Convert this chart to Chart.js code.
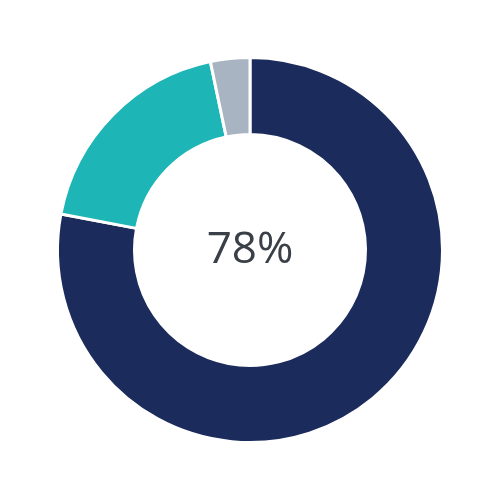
<!DOCTYPE html>
<html>
<head>
<meta charset="UTF-8">
<title>Doughnut</title>
<style>
  body { margin: 0; background: #fff; }
</style>
</head>
<body>
<canvas id="donut" width="500" height="500"></canvas>
<script src="https://cdn.jsdelivr.net/npm/chart.js"></script>
<script>
const labels = ['A', 'B', 'C'];
const values = [78, 18.7, 3.3];
const colors = ['#1b2b5b', '#1db5b5', '#a9b4c2'];
const centerText = '78%';

const centerLabel = {
  id: 'centerLabel',
  afterDraw(chart) {
    const { ctx, chartArea } = chart;
    const x = (chartArea.left + chartArea.right) / 2;
    const y = (chartArea.top + chartArea.bottom) / 2;
    ctx.save();
    ctx.font = '44px "Open Sans", sans-serif';
    ctx.fillStyle = '#3a3f48';
    ctx.textAlign = 'center';
    ctx.textBaseline = 'middle';
    ctx.fillText(centerText, x, y);
    ctx.restore();
  }
};

new Chart(document.getElementById('donut'), {
  type: 'doughnut',
  data: { labels: labels, datasets: [{ data: values, backgroundColor: colors, borderColor: '#fff', borderWidth: 3 }] },
  options: {
    responsive: false,
    devicePixelRatio: 1,
    animation: false,
    cutout: '60%',
    layout: { padding: 56 },
    plugins: { legend: { display: false }, tooltip: { enabled: false } }
  },
  plugins: [centerLabel]
});
</script>
</body>
</html>
